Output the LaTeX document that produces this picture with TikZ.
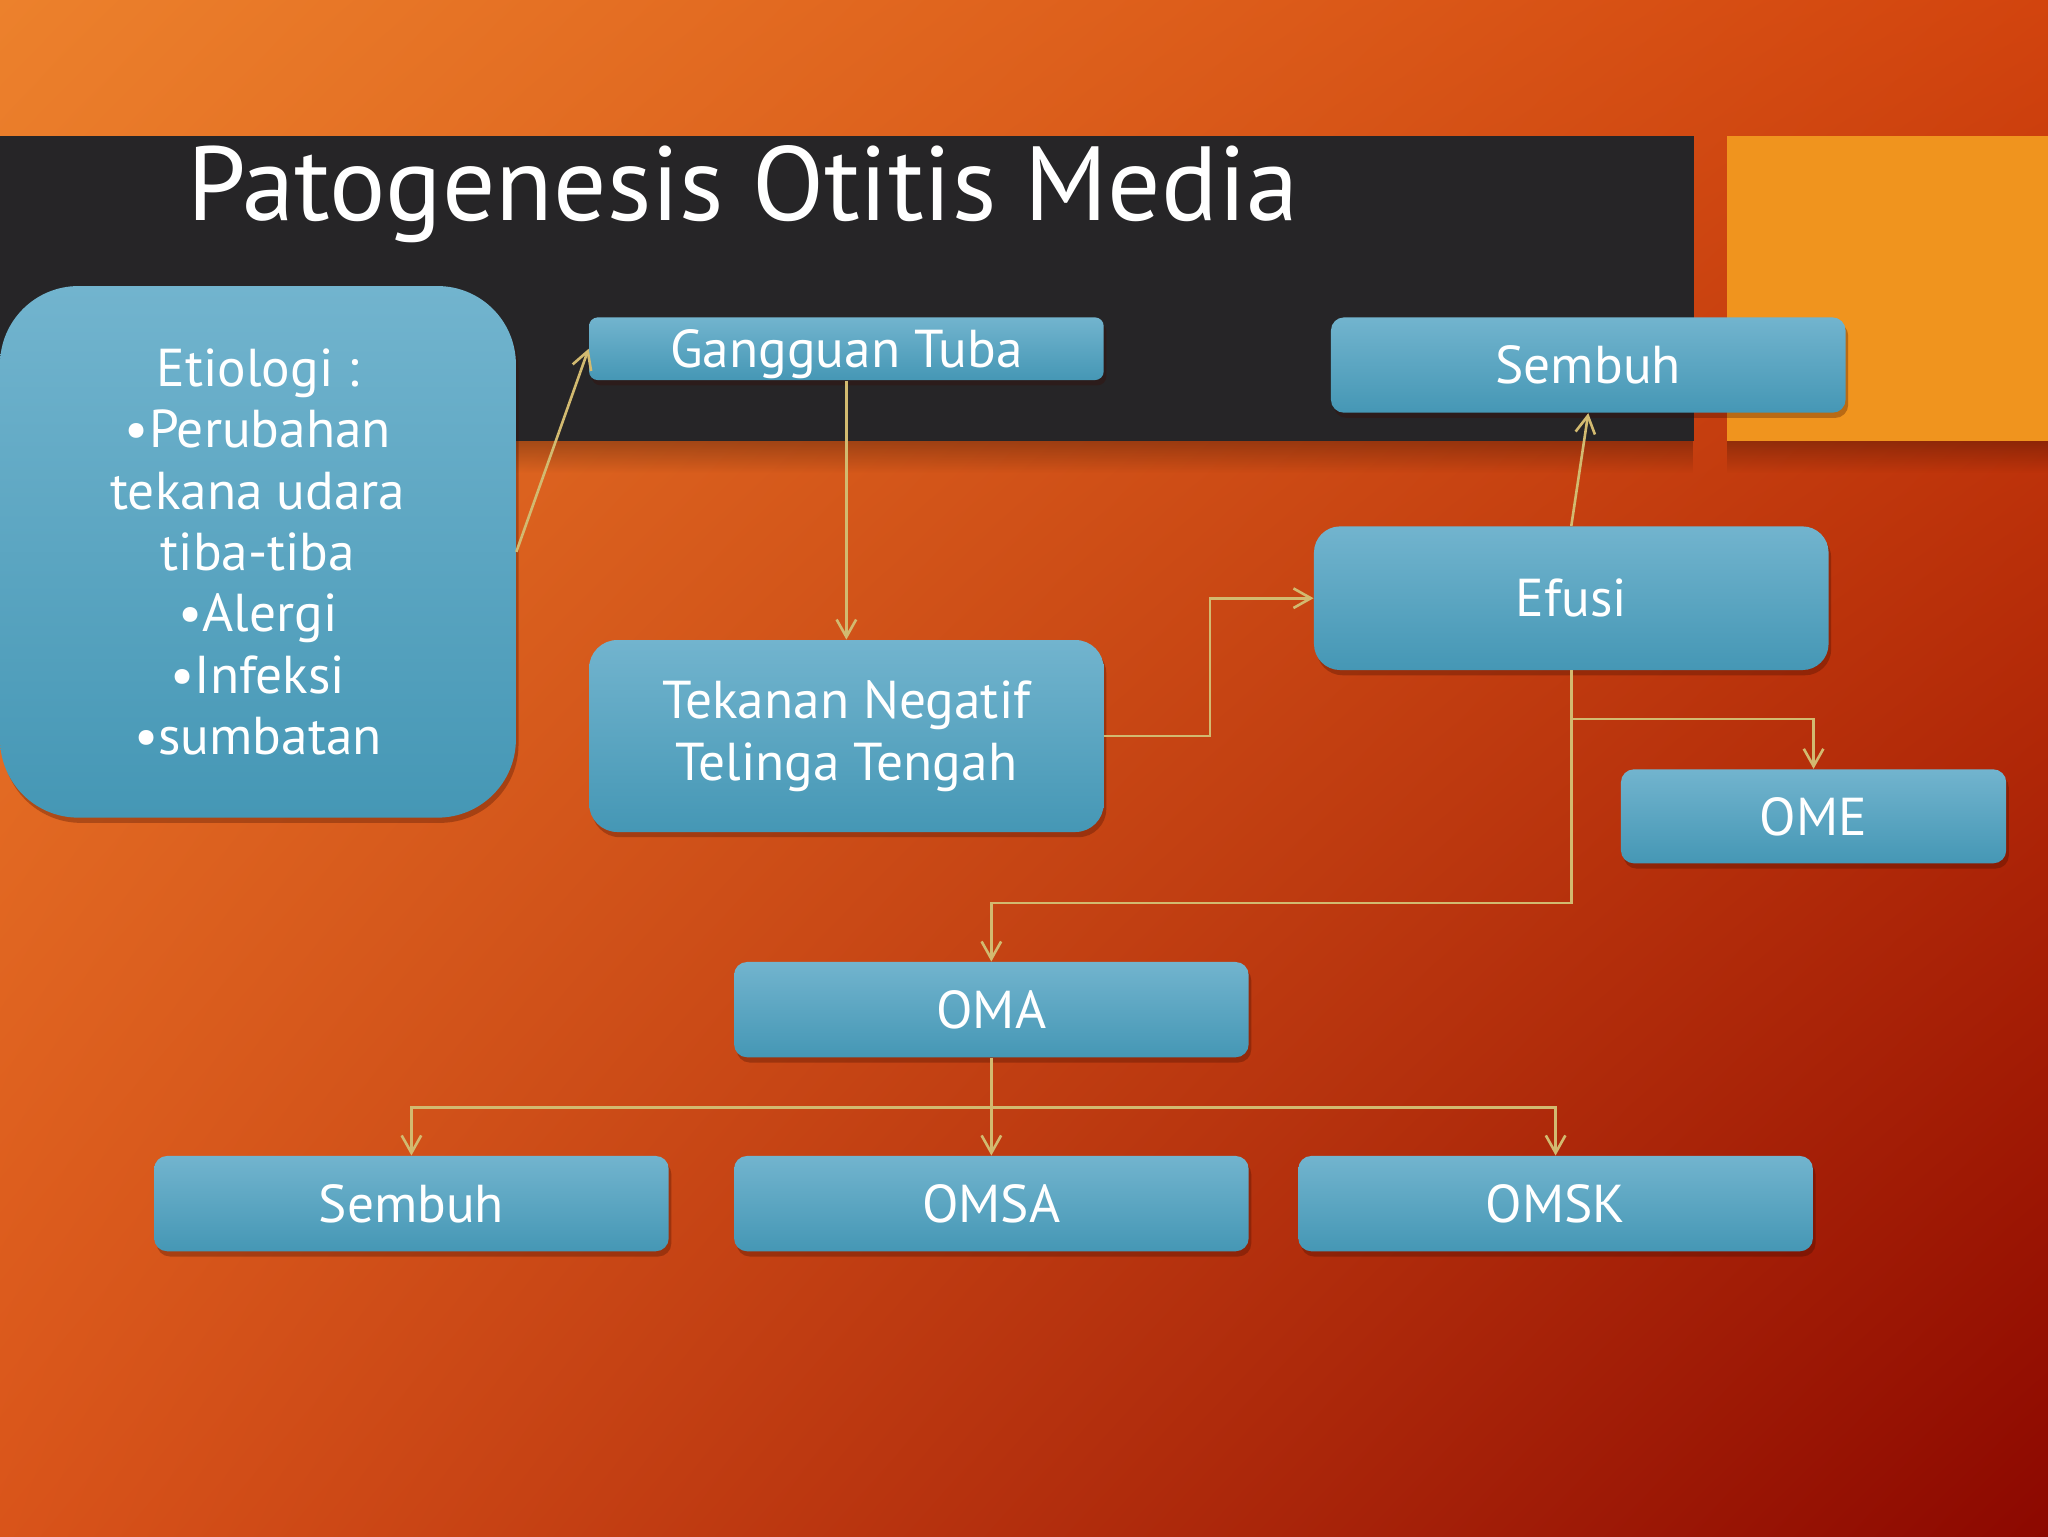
\documentclass[tikz,border=0pt]{standalone}
\usepackage{fontspec}
\setmainfont{PT Sans}
\usetikzlibrary{arrows.meta,shadows,shadings,fadings,calc}
\definecolor{bgUL}{HTML}{EC812C}
\definecolor{bgUR}{HTML}{D2440E}
\definecolor{bgLL}{HTML}{D9541A}
\definecolor{bgLR}{HTML}{8C0800}
\definecolor{darkbar}{HTML}{262527}
\definecolor{orangebar}{HTML}{F0941E}
\definecolor{boxtop}{HTML}{72B4CE}
\definecolor{boxbot}{HTML}{4597B5}
\definecolor{conncol}{HTML}{D2BA70}
\definecolor{shadowcol}{HTML}{3A0A00}
\begin{document}
\begin{tikzpicture}[x=0.6pt,y=-0.6pt,
  box/.style={shade, top color=boxtop, bottom color=boxbot, text=white,
    font=\fontsize{24.5}{28.2}\selectfont, align=center, inner sep=0pt,
    drop shadow={shadow xshift=1.2pt, shadow yshift=-2.4pt, opacity=0.3, fill=shadowcol}},
  smallbox/.style={box, minimum width=236.4pt, minimum height=43.8pt, rounded corners=6pt},
  conn/.style={draw=conncol, line width=1.2pt, -{Straight Barb[length=8pt,width=9pt]}},
  ]
\useasboundingbox (0,0) rectangle (1568,1176);
% background
\shade[upper left=bgUL, upper right=bgUR, lower left=bgLL, lower right=bgLR] (0,0) rectangle (1568,1176);
% bar shadows
\fill[black, opacity=0.25, path fading=south] (0,338) rectangle (1297,362);
\fill[black, opacity=0.25, path fading=south] (1322,338) rectangle (1568,362);
% title bars
\fill[darkbar] (0,104) rectangle (1297,338);
\fill[orangebar] (1322,104) rectangle (1568,338);
\node[anchor=base west, text=white, font=\fontsize{48.4}{52}\selectfont, inner sep=0pt] (title) at (143,169) {Patogenesis Otitis Media};

% boxes
\node[box, minimum width=237pt, minimum height=244.2pt, rounded corners=36pt] (etio) at (197.5,422.5)
  {Etiologi :\\•Perubahan\\tekana udara\\tiba-tiba\\•Alergi\\•Infeksi\\•sumbatan};
\node[box, minimum width=236.4pt, minimum height=28.8pt, rounded corners=4pt, text depth=0pt] (gt) at (648,267) {Gangguan Tuba};
\node[smallbox] (s1) at (1216,279.5) {Sembuh};
\node[box, minimum width=236.4pt, minimum height=66pt, rounded corners=12pt] (ef) at (1203,458) {Efusi};
\node[box, minimum width=236.4pt, minimum height=88.2pt, rounded corners=13pt] (tn) at (648,563.5) {Tekanan Negatif\\Telinga Tengah};
\node[box, minimum width=177pt, minimum height=43.2pt, rounded corners=6pt] (ome) at (1388.5,625) {OME};
\node[smallbox] (oma) at (759,773) {OMA};
\node[smallbox] (s2) at (315,921.5) {Sembuh};
\node[smallbox] (omsa) at (759,921.5) {OMSA};
\node[smallbox] (omsk) at (1191,921.5) {OMSK};

% connectors
\draw[conn] (etio.east) -- (gt.west);
\draw[conn] (gt.south) -- (tn.north);
\draw[conn] (tn.east) -- ++(81,0) |- (ef.west);
\draw[conn] (ef.north) -- (s1.south);
\draw[conn] (ef.south) -- ++(0,37) -| (ome.north);
\draw[conn] (ef.south) -- ++(0,178) -| (oma.north);
\draw[conn] (oma.south) -- ++(0,38) -| (s2.north);
\draw[conn] (oma.south) -- (omsa.north);
\draw[conn] (oma.south) -- ++(0,38) -| (omsk.north);
\end{tikzpicture}
\end{document}
